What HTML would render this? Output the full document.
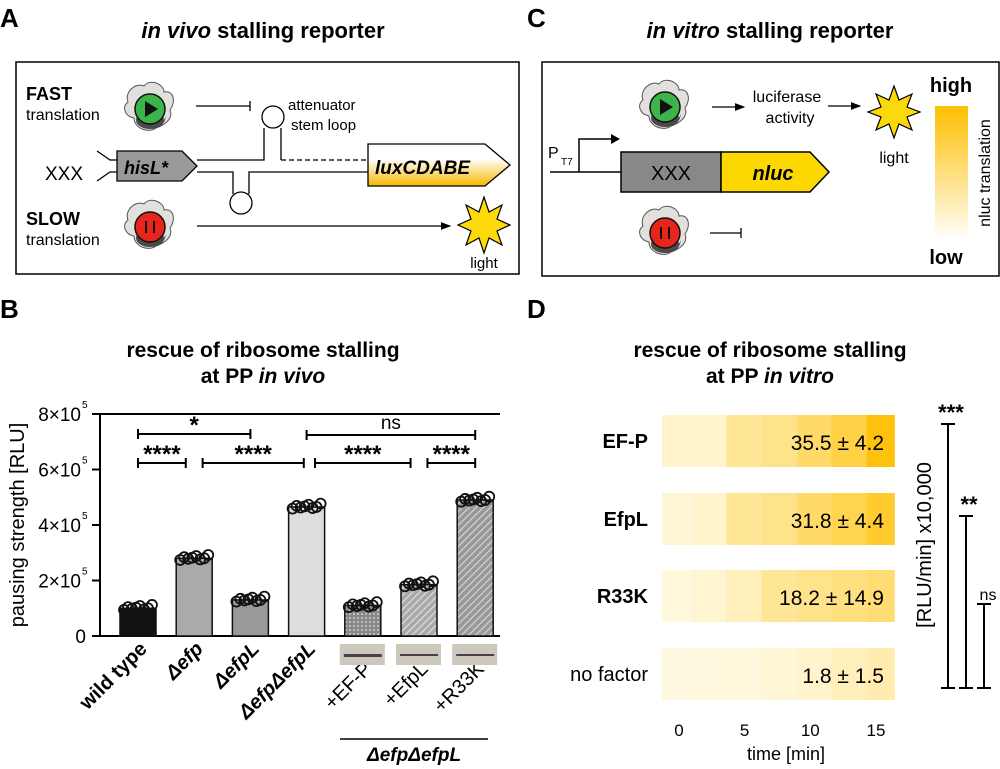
<!DOCTYPE html>
<html><head><meta charset="utf-8"><style>
body{margin:0;background:#fff}
svg{display:block;font-family:"Liberation Sans",Arial,sans-serif}
</style></head><body>
<svg id="fig" width="1000" height="769" viewBox="0 0 1000 769" xmlns="http://www.w3.org/2000/svg">
<defs>
<linearGradient id="luxg" x1="0" y1="0" x2="0" y2="1"><stop offset="0.35" stop-color="#fff"/><stop offset="1" stop-color="#f5b800"/></linearGradient>
<linearGradient id="hl" x1="0" y1="1" x2="0" y2="0"><stop offset="0" stop-color="#fffef8"/><stop offset="1" stop-color="#fdbf00"/></linearGradient>
<pattern id="dots" width="4" height="4" patternUnits="userSpaceOnUse"><rect width="4" height="4" fill="#888"/><circle cx="2" cy="2" r="1" fill="#ccc"/></pattern>
<pattern id="hatch1" width="5" height="5" patternUnits="userSpaceOnUse" patternTransform="rotate(45)"><rect width="5" height="5" fill="#999"/><line x1="0" y1="0" x2="0" y2="5" stroke="#ddd" stroke-width="2"/></pattern>
<pattern id="hatch2" width="5" height="5" patternUnits="userSpaceOnUse" patternTransform="rotate(45)"><rect width="5" height="5" fill="#aaa"/><line x1="0" y1="0" x2="0" y2="5" stroke="#e6e6e6" stroke-width="2"/></pattern>
<marker id="arr" markerWidth="8" markerHeight="8" refX="7" refY="4" orient="auto"><path d="M0,1 L8,4 L0,7z" fill="#000"/></marker>
<g id="ribo"><path d="M-22,-4 C-26,-14 -14,-24 -6,-20 C0,-28 14,-22 14,-14 C24,-16 26,-4 20,4 C24,14 12,20 6,22 C-2,28 -16,22 -16,12 C-26,10 -28,0 -22,-4z" fill="#e2e0dc" stroke="#555" stroke-width="1"/><path d="M-14,6 C-10,22 10,26 16,10 C14,24 -2,30 -14,6z" fill="#444"/><ellipse cx="0" cy="14" rx="14" ry="9" fill="#4a4a4a"/></g>
</defs>

<!-- Panel A -->
<g>
<text x="0" y="27" font-size="26" font-weight="bold">A</text>
<text x="263" y="38" font-size="22" font-weight="bold" text-anchor="middle"><tspan font-style="italic">in vivo</tspan> stalling reporter</text>
<rect x="16" y="62" width="503" height="212" fill="none" stroke="#000" stroke-width="1.5"/>
<text x="26" y="100" font-size="18" font-weight="bold">FAST</text>
<text x="26" y="120" font-size="16">translation</text>
<use href="#ribo" x="150" y="106"/>
<circle cx="150" cy="109" r="15" fill="#3cb44a" stroke="#111" stroke-width="1.5"/><path d="M145,101 L158,109 L145,117z" fill="#111"/>
<line x1="196" y1="106" x2="250" y2="106" stroke="#000" stroke-width="1.3"/><line x1="250" y1="101" x2="250" y2="111" stroke="#000" stroke-width="1.3"/>
<text x="288" y="110" font-size="15">attenuator</text><text x="291" y="130" font-size="15">stem loop</text>
<circle cx="273" cy="117" r="11" fill="#fff" stroke="#000" stroke-width="1.3"/>
<path d="M197,160 H264 V128 M281,128 V160" fill="none" stroke="#000" stroke-width="1.3"/>
<line x1="281" y1="160" x2="368" y2="160" stroke="#000" stroke-width="1.3" stroke-dasharray="5,3"/>
<path d="M197,172 H233 V194 M249,194 V172 H368" fill="none" stroke="#000" stroke-width="1.3"/>
<circle cx="241" cy="203" r="11" fill="#fff" stroke="#000" stroke-width="1.3"/>
<path d="M368,144 H485 L510,165 L485,186 H368z" fill="url(#luxg)" stroke="#000" stroke-width="1.3"/>
<text x="375" y="174" font-size="19" font-weight="bold" font-style="italic">luxCDABE</text>
<path d="M117,151 H182 L197,166 L182,181 H117z" fill="#999" stroke="#000" stroke-width="1.3"/>
<text x="124" y="174" font-size="18" font-weight="bold" font-style="italic">hisL*</text>
<path d="M97,151 L110,160 H117 M97,181 L110,172 H117" fill="none" stroke="#000" stroke-width="1.3"/>
<text x="45" y="180" font-size="19">XXX</text>
<text x="26" y="225" font-size="18" font-weight="bold">SLOW</text>
<text x="26" y="245" font-size="16">translation</text>
<use href="#ribo" x="150" y="224"/>
<circle cx="150" cy="227" r="15" fill="#e8251b" stroke="#111" stroke-width="1.5"/><path d="M146,221 V233 M154,221 V233" stroke="#111" stroke-width="2"/>
<line x1="197" y1="226" x2="450" y2="226" stroke="#000" stroke-width="1.3" marker-end="url(#arr)"/>
<polygon points="484,197 489,212 502,205 497,219 510,225 497,231 502,245 489,238 484,253 479,238 466,245 471,231 458,225 471,219 466,205 479,212" fill="#fcd90a" stroke="#000" stroke-width="1.2"/>
<text x="484" y="268" font-size="15" text-anchor="middle">light</text>
</g>

<!-- Panel C -->
<g>
<text x="527" y="27" font-size="26" font-weight="bold">C</text>
<text x="770" y="38" font-size="22" font-weight="bold" text-anchor="middle"><tspan font-style="italic">in vitro</tspan> stalling reporter</text>
<rect x="542" y="62" width="457" height="214" fill="none" stroke="#000" stroke-width="1.5"/>
<use href="#ribo" x="665" y="104"/>
<circle cx="665" cy="107" r="15" fill="#3cb44a" stroke="#111" stroke-width="1.5"/><path d="M660,99 L673,107 L660,115z" fill="#111"/>
<line x1="712" y1="107" x2="744" y2="107" stroke="#000" stroke-width="1.3" marker-end="url(#arr)"/>
<text x="787" y="102" font-size="16" text-anchor="middle">luciferase</text><text x="790" y="123" font-size="16" text-anchor="middle">activity</text>
<line x1="828" y1="106" x2="860" y2="106" stroke="#000" stroke-width="1.3" marker-end="url(#arr)"/>
<polygon points="894,86 899,100 912,94 907,107 920,112 907,117 912,130 899,124 894,138 889,124 876,130 881,117 868,112 881,107 876,94 889,100" fill="#fcd90a" stroke="#000" stroke-width="1.2"/>
<text x="894" y="163" font-size="16" text-anchor="middle">light</text>
<text x="951" y="92" font-size="20" font-weight="bold" text-anchor="middle">high</text>
<rect x="935" y="106" width="33" height="132" fill="url(#hl)"/>
<text x="946" y="264" font-size="20" font-weight="bold" text-anchor="middle">low</text>
<text transform="translate(990,173) rotate(-90)" font-size="16" text-anchor="middle">nluc translation</text>
<text x="548" y="158" font-size="16">P</text><text x="561" y="165" font-size="10">T7</text>
<path d="M550,172 H621 M579,172 V139 H612" fill="none" stroke="#000" stroke-width="1.5"/><path d="M611,134 L620,139 L611,144z"/>
<rect x="621" y="152" width="100" height="40" fill="#888" stroke="#000" stroke-width="1.5"/>
<text x="671" y="180" font-size="20" text-anchor="middle">XXX</text>
<path d="M721,152 H810 L829,172 L810,192 H721z" fill="#fcd800" stroke="#000" stroke-width="1.5"/>
<text x="773" y="180" font-size="20" font-weight="bold" font-style="italic" text-anchor="middle">nluc</text>
<use href="#ribo" x="665" y="230"/>
<circle cx="665" cy="233" r="15" fill="#e8251b" stroke="#111" stroke-width="1.5"/><path d="M661,227 V239 M669,227 V239" stroke="#111" stroke-width="2"/>
<line x1="710" y1="233" x2="741" y2="233" stroke="#000" stroke-width="1.3"/><line x1="741" y1="228" x2="741" y2="238" stroke="#000" stroke-width="1.3"/>
</g>

<!-- Panel B -->
<g id="panelB">
<text x="0" y="318" font-size="26" font-weight="bold">B</text>
<text x="263" y="357" font-size="21" font-weight="bold" text-anchor="middle">rescue of ribosome stalling</text>
<text x="263" y="383" font-size="21" font-weight="bold" text-anchor="middle"><tspan>at PP </tspan><tspan font-style="italic">in vivo</tspan></text>
<text transform="translate(24,525) rotate(-90)" font-size="20" text-anchor="middle">pausing strength [RLU]</text>
</g>

<!-- Panel D -->
<g id="panelD">
<text x="527" y="318" font-size="26" font-weight="bold">D</text>
<text x="770" y="357" font-size="21" font-weight="bold" text-anchor="middle">rescue of ribosome stalling</text>
<text x="770" y="383" font-size="21" font-weight="bold" text-anchor="middle"><tspan>at PP </tspan><tspan font-style="italic">in vitro</tspan></text>
<text x="786" y="760" font-size="18" text-anchor="middle">time [min]</text>
<text transform="translate(931,545) rotate(-90)" font-size="20" text-anchor="middle">[RLU/min] x10,000</text>
<path d="M941,424 H955 M948,424 V688 M941,688 H955 M959,516 H973 M966,516 V688 M959,688 H973 M977,604 H991 M984,604 V688 M977,688 H991" stroke="#000" stroke-width="2" fill="none"/>
<text x="951" y="420" font-size="22" font-weight="bold" text-anchor="middle">***</text>
<text x="969" y="512" font-size="22" font-weight="bold" text-anchor="middle">**</text>
<text x="988" y="600" font-size="16" text-anchor="middle">ns</text>
</g>
</svg>
<script>
// Panel B data
const categories = ["wild type","Δefp","ΔefpL","ΔefpΔefpL","+EF-P","+EfpL","+R33K"];
const barValues = [1.0e5, 2.8e5, 1.3e5, 4.65e5, 1.1e5, 1.85e5, 4.9e5];
const replicateOffsets = [-0.06e5, 0.04e5, -0.02e5, 0.02e5, 0.08e5, -0.04e5, 0.0, 0.12e5];
const yTicks = [0, 2e5, 4e5, 6e5, 8e5];
const yTickLabels = ["0","2×10","4×10","6×10","8×10"];
// Panel D data
const rowLabels = ["EF-P","EfpL","R33K","no factor"];
const rowValueLabels = ["35.5 ± 4.2","31.8 ± 4.4","18.2 ± 14.9","1.8 ± 1.5"];
const colEdges = [-1.3, 1, 3.6, 6.3, 9, 11.6, 14.3, 16.4];
const heat = [
 [0.12,0.12,0.35,0.4,0.55,0.7,0.95],
 [0.08,0.12,0.35,0.4,0.55,0.65,0.8],
 [0.05,0.1,0.2,0.35,0.4,0.45,0.5],
 [0.03,0.04,0.05,0.08,0.12,0.2,0.25]
];
const xTicks = [0,5,10,15];

const NS="http://www.w3.org/2000/svg";
function mk(tag, attrs, parent, txt){const e=document.createElementNS(NS,tag);for(const k in attrs)e.setAttribute(k,attrs[k]);if(txt!==undefined)e.textContent=txt;parent.appendChild(e);return e;}

// ---- Panel B
const gB=document.getElementById('panelB');
const yS=v=>636-(v/8e5)*222;
const xS=i=>138+i*56.2;
const fills=["#111","#aaa","#999","#ddd","url(#dots)","url(#hatch2)","url(#hatch1)"];
mk('line',{x1:100,y1:414,x2:100,y2:637,stroke:'#000','stroke-width':2},gB);
mk('line',{x1:99,y1:636,x2:500,y2:636,stroke:'#000','stroke-width':2},gB);
mk('line',{x1:99,y1:414,x2:500,y2:414,stroke:'#000','stroke-width':2},gB);
yTicks.forEach((t,i)=>{
  const y=yS(t);
  const tk=mk('line',{x1:92,y1:y,x2:100,y2:y,stroke:'#000','stroke-width':2},gB);
  
  
  const tx=mk('text',{x:i===0?86:81,y:y+7,'font-size':19,'text-anchor':'end'},gB,yTickLabels[i]);
  
  
  if(i>0){mk('text',{x:82,y:y-6,'font-size':10},gB,'5');}
});
barValues.forEach((v,i)=>{
  const x=xS(i);
  const r=mk('rect',{x:x-18,y:yS(v),width:36,height:636-yS(v),fill:fills[i],stroke:'#111','stroke-width':1.5},gB);
  
  
  replicateOffsets.forEach((o,j)=>{
    const c=mk('circle',{cx:x-14+j*4,cy:yS(v+o),r:5,fill:'none',stroke:'#111','stroke-width':1.8},gB);
    
    
  });
  const ly=i>=4?670:650;
  const lbl=mk('text',{transform:`translate(${x+10},${ly}) rotate(-45)`,'font-size':20,'text-anchor':'end','font-weight':i<4?'bold':'normal','font-style':(i>0&&i<4)?'italic':'normal'},gB,categories[i]);
  
  
  if(i>=4){
    const b=mk('rect',{x:x-23,y:644,width:45,height:21,fill:'#cdc8bc'},gB);
    
    
    mk('rect',{x:x-19,y:654,width:38,height:i===4?3:2,fill:'#4a3f4a'},gB);
  }
});
// significance brackets
const br=[[0,0.85,463,'****'],[1.15,2.95,463,'****'],[3.15,4.85,463,'****'],[5.15,6,463,'****'],[0,2,434,'*'],[3,6,435,'ns']];
br.forEach(b=>{
  const x1=xS(b[0]),x2=xS(b[1]),y=b[2];
  mk('path',{d:`M${x1},${y-5}V${y+5}M${x1},${y}H${x2}M${x2},${y-5}V${y+5}`,stroke:'#000','stroke-width':2,fill:'none'},gB);
  mk('text',{x:(x1+x2)/2,y:b[3]==='ns'?y-6:y-1,'font-size':b[3]==='ns'?19:24,'font-weight':b[3]==='ns'?'normal':'bold','text-anchor':'middle'},gB,b[3]);
});
mk('line',{x1:340,y1:739,x2:488,y2:739,stroke:'#000','stroke-width':1.5},gB);
mk('text',{x:414,y:761,'font-size':19,'font-weight':'bold','font-style':'italic','text-anchor':'middle'},gB,'ΔefpΔefpL');

// ---- Panel D
const gD=document.getElementById('panelD');
const tS=t=>679+t*13.13;
const rowTop=[415,493,570,648];
function col(v){const a=[255,251,232],b=[255,191,0];return `rgb(${a.map((c,k)=>Math.round(c+(b[k]-c)*v)).join(',')})`;}
heat.forEach((row,r)=>{
  row.forEach((v,c)=>{
    const x1=tS(colEdges[c]),x2=tS(colEdges[c+1]);
    const cell=mk('rect',{x:x1,y:rowTop[r],width:x2-x1+0.5,height:52,fill:col(v)},gD);
    
    
  });
  const rl=mk('text',{x:648,y:rowTop[r]+33,'font-size':20,'font-weight':r<3?'bold':'normal','text-anchor':'end'},gD,rowLabels[r]);
  
  
  const vl=mk('text',{x:884,y:rowTop[r]+35,'font-size':21,'text-anchor':'end'},gD,rowValueLabels[r]);
  
  
});
xTicks.forEach(t=>{
  const tl=mk('text',{x:tS(t),y:736,'font-size':17,'text-anchor':'middle'},gD,String(t));
  
  
});
</script>
</body></html>
